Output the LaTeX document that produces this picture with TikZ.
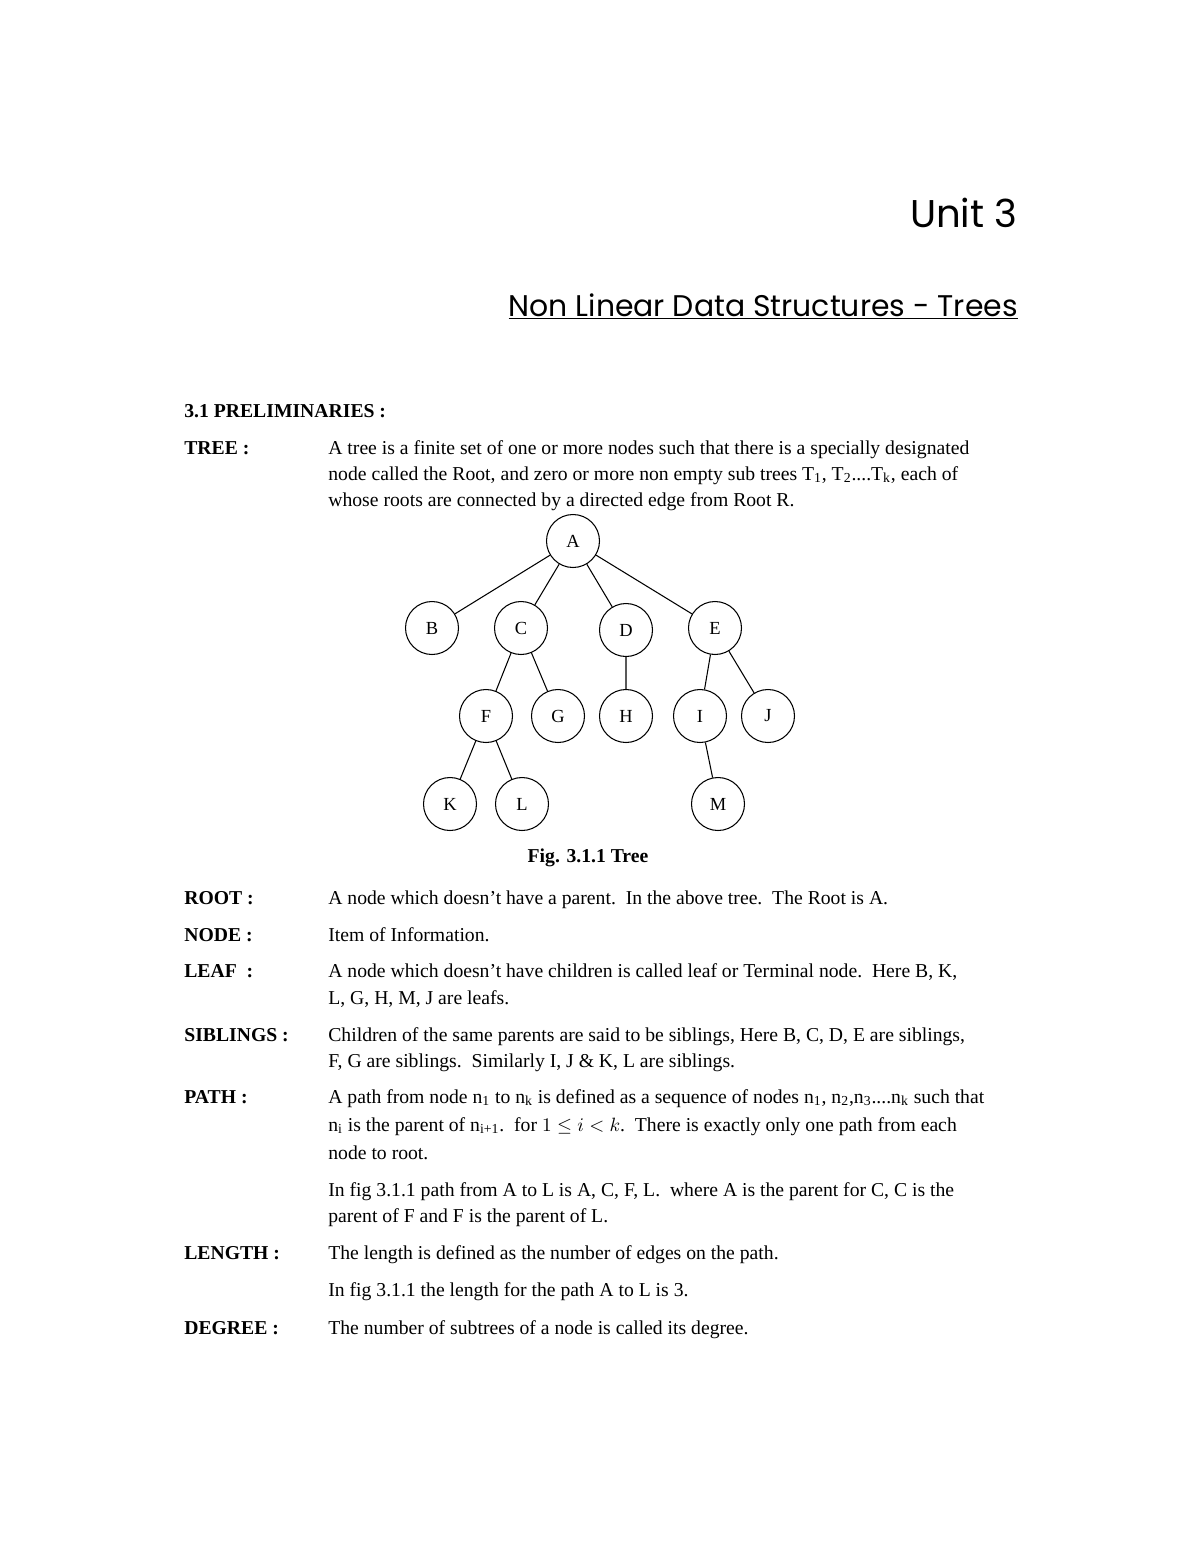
\documentclass[tikz,border=0pt]{standalone}
\usepackage{fontspec}
\setmainfont{Liberation Serif}
\newfontfamily\headfont{Poppins}
\begin{document}
\begin{tikzpicture}[x=0.02cm,y=-0.02cm,
  tn/.style={circle,draw,line width=0.6pt,minimum size=1.06cm,inner sep=0pt,font=\fontsize{10.5}{12}\selectfont},
  tx/.style={anchor=base west,inner sep=0pt,font=\fontsize{11.2}{13}\selectfont},
  lb/.style={anchor=base west,inner sep=0pt,font=\fontsize{11.2}{13}\selectfont\bfseries},
  ed/.style={line width=0.6pt}]
\useasboundingbox (0,0) rectangle (1200,1553);
\node[anchor=base east,inner sep=0pt,font=\headfont\fontsize{22}{26}\selectfont] (unit) at (1018,227) {Unit 3};
\node[anchor=base east,inner sep=0pt,font=\headfont\fontsize{17}{20}\selectfont] (sub) at (1018,316) {\underline{Non Linear Data Structures - Trees}};
\node[lb] (prel) at (184,417) {3.1 PRELIMINARIES :};
\node[lb] (l1) at (184,454) {TREE :};
\node[tx] (t1) at (328,454) {A tree is a finite set of one or more nodes such that there is a specially designated};
\node[tx] (t2) at (328,480) {node called the Root, and zero or more non empty sub trees T\textsubscript{1}, T\textsubscript{2}....T\textsubscript{k}, each of};
\node[tx] (t3) at (328,506) {whose roots are connected by a directed edge from Root R.};
% tree
\node[tn] (A) at (573,541) {A};
\node[tn] (B) at (432,628) {B};
\node[tn] (C) at (521,628) {C};
\node[tn] (D) at (626,630) {D};
\node[tn] (E) at (715,628) {E};
\node[tn] (F) at (486,716) {F};
\node[tn] (G) at (558,716) {G};
\node[tn] (H) at (626,716) {H};
\node[tn] (I) at (700,716) {I};
\node[tn] (J) at (768,716) {J};
\node[tn] (K) at (450,804) {K};
\node[tn] (L) at (522,804) {L};
\node[tn] (M) at (718,804) {M};
\draw[ed] (A)--(B) (A)--(C) (A)--(D) (A)--(E) (C)--(F) (C)--(G) (D)--(H)
  (E)--(I) (E)--(J) (F)--(K) (F)--(L) (I)--(M);
\node[anchor=base,inner sep=0pt,font=\fontsize{11.2}{13}\selectfont\bfseries] (cap) at (588,862) {Fig. 3.1.1 Tree};
\node[lb] (l2) at (184,904) {ROOT :};
\node[tx] (r1) at (328,904) {A node which doesn’t have a parent.\ \ In the above tree.\ \ The Root is A.};
\node[lb] (l3) at (184,941) {NODE :};
\node[tx] (n1) at (328,941) {Item of Information.};
\node[lb] (l4) at (184,977) {LEAF \ :};
\node[tx] (f1) at (328,977) {A node which doesn’t have children is called leaf or Terminal node.\ \ Here B, K,};
\node[tx] (f2) at (328,1004) {L, G, H, M, J are leafs.};
\node[lb] (l5) at (184,1041) {SIBLINGS :};
\node[tx] (s1) at (328,1041) {Children of the same parents are said to be siblings, Here B, C, D, E are siblings,};
\node[tx] (s2) at (328,1067) {F, G are siblings.\ \ Similarly I, J \& K, L are siblings.};
\node[lb] (l6) at (184,1103) {PATH :};
\node[tx] (p1) at (328,1103) {A path from node n\textsubscript{1} to n\textsubscript{k} is defined as a sequence of nodes n\textsubscript{1}, n\textsubscript{2},n\textsubscript{3}....n\textsubscript{k} such that};
\node[tx] (p2) at (328,1131) {n\textsubscript{i} is the parent of n\textsubscript{i+1}.\ \ for $1\le i<k$.\ \ There is exactly only one path from each};
\node[tx] (p3) at (328,1159) {node to root.};
\node[tx] (p4) at (328,1196) {In fig 3.1.1 path from A to L is A, C, F, L.\ \ where A\ is the parent for C, C is the};
\node[tx] (p5) at (328,1222) {parent of F and F is the parent of L.};
\node[lb] (l7) at (184,1259) {LENGTH :};
\node[tx] (g1) at (328,1259) {The length is defined as the number of edges on the path.};
\node[tx] (g2) at (328,1296) {In fig 3.1.1 the length for the path A to L is 3.};
\node[lb] (l8) at (184,1334) {DEGREE :};
\node[tx] (d1) at (328,1334) {The number of subtrees of a node is called its degree.};
\end{tikzpicture}
\end{document}
